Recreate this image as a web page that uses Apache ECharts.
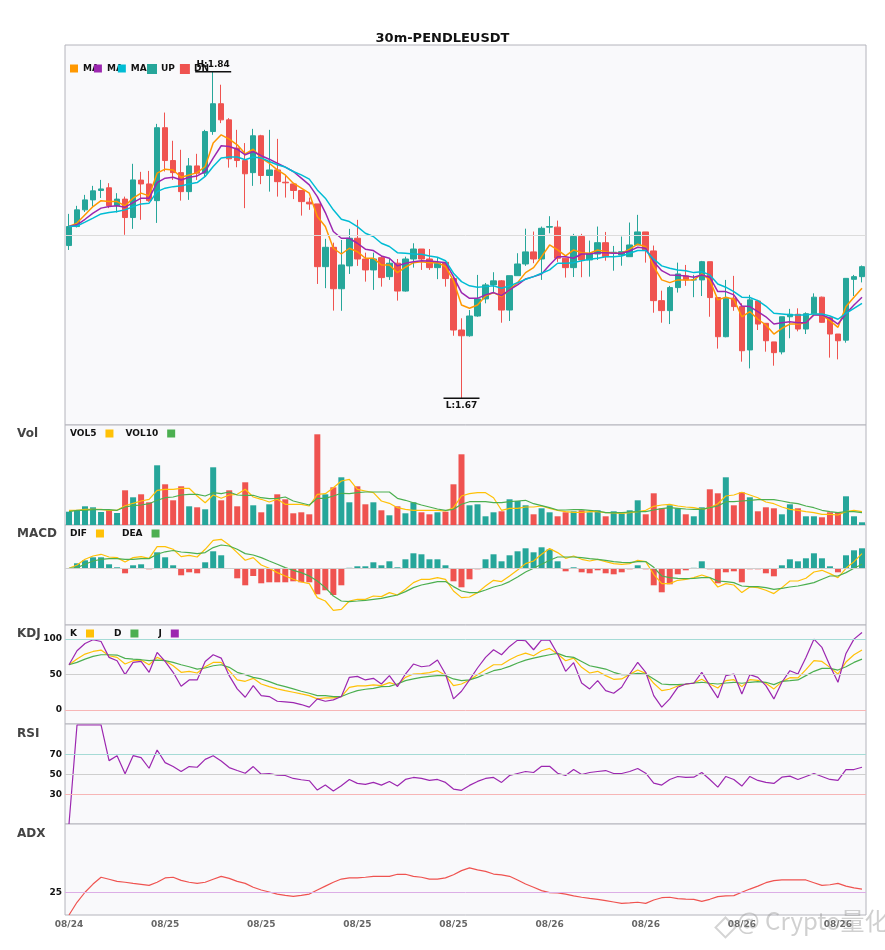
<!DOCTYPE html>
<html lang="en">
<head>
<meta charset="utf-8">
<style>
    html, body { margin: 0; width: 100%; height: 100%; background: #fff; overflow: hidden; }
    #chart { width: 885px; height: 950px; }
</style>
</head>
<body>
<div id="chart"></div>
<script src="https://cdn.jsdelivr.net/npm/echarts@6/dist/echarts.min.js"></script>
<script>
var categories = [
    '08/24 18:00','08/24 18:30','08/24 19:00','08/24 19:30','08/24 20:00','08/24 20:30','08/24 21:00','08/24 21:30','08/24 22:00','08/24 22:30','08/24 23:00','08/24 23:30',
    '08/25 00:00','08/25 00:30','08/25 01:00','08/25 01:30','08/25 02:00','08/25 02:30','08/25 03:00','08/25 03:30','08/25 04:00','08/25 04:30','08/25 05:00','08/25 05:30',
    '08/25 06:00','08/25 06:30','08/25 07:00','08/25 07:30','08/25 08:00','08/25 08:30','08/25 09:00','08/25 09:30','08/25 10:00','08/25 10:30','08/25 11:00','08/25 11:30',
    '08/25 12:00','08/25 12:30','08/25 13:00','08/25 13:30','08/25 14:00','08/25 14:30','08/25 15:00','08/25 15:30','08/25 16:00','08/25 16:30','08/25 17:00','08/25 17:30',
    '08/25 18:00','08/25 18:30','08/25 19:00','08/25 19:30','08/25 20:00','08/25 20:30','08/25 21:00','08/25 21:30','08/25 22:00','08/25 22:30','08/25 23:00','08/25 23:30',
    '08/26 00:00','08/26 00:30','08/26 01:00','08/26 01:30','08/26 02:00','08/26 02:30','08/26 03:00','08/26 03:30','08/26 04:00','08/26 04:30','08/26 05:00','08/26 05:30',
    '08/26 06:00','08/26 06:30','08/26 07:00','08/26 07:30','08/26 08:00','08/26 08:30','08/26 09:00','08/26 09:30','08/26 10:00','08/26 10:30','08/26 11:00','08/26 11:30',
    '08/26 12:00','08/26 12:30','08/26 13:00','08/26 13:30','08/26 14:00','08/26 14:30','08/26 15:00','08/26 15:30','08/26 16:00','08/26 16:30','08/26 17:00','08/26 17:30',
    '08/26 18:00','08/26 18:30','08/26 19:00','08/26 19:30'
];

var open = [
    1.7495,1.7594,1.7681,1.7733,1.7782,1.7796,1.7703,1.7737,1.7641,1.7836,
    1.7816,1.7729,1.8109,1.7938,1.7875,1.7776,1.7910,1.7872,1.8089,1.8234,
    1.8150,1.8003,1.7938,1.7875,1.8067,1.7860,1.7889,1.7825,1.7816,1.7782,
    1.7721,1.7712,1.7385,1.7486,1.7270,1.7389,1.7533,1.7425,1.7368,1.7432,
    1.7333,1.7403,1.7258,1.7425,1.7477,1.7425,1.7380,1.7408,1.7323,1.7055,
    1.7025,1.7128,1.7217,1.7290,1.7311,1.7159,1.7338,1.7399,1.7462,1.7425,
    1.7591,1.7591,1.7429,1.7380,1.7542,1.7420,1.7451,1.7510,1.7458,1.7446,
    1.7437,1.7498,1.7566,1.7467,1.7208,1.7156,1.7276,1.7337,1.7316,1.7316,
    1.7411,1.7224,1.7020,1.7221,1.7177,1.6951,1.7206,1.7090,1.6993,1.6941,
    1.7124,1.7137,1.7060,1.7140,1.7226,1.7119,1.7034,1.7002,1.7319,1.7333
];
var close = [
    1.7594,1.7681,1.7733,1.7780,1.7790,1.7703,1.7737,1.7641,1.7837,1.7816,
    1.7729,1.8109,1.7938,1.7875,1.7776,1.7910,1.7872,1.8089,1.8234,1.8150,
    1.7947,1.7938,1.7869,1.8067,1.7860,1.7889,1.7828,1.7822,1.7782,1.7724,
    1.7712,1.7385,1.7486,1.7270,1.7394,1.7533,1.7425,1.7368,1.7425,1.7328,
    1.7403,1.7258,1.7425,1.7477,1.7425,1.7380,1.7403,1.7323,1.7055,1.7025,
    1.7128,1.7217,1.7290,1.7311,1.7159,1.7338,1.7399,1.7462,1.7425,1.7585,
    1.7594,1.7429,1.7380,1.7542,1.7420,1.7451,1.7510,1.7437,1.7460,1.7463,
    1.7498,1.7566,1.7469,1.7208,1.7156,1.7276,1.7347,1.7316,1.7317,1.7411,
    1.7224,1.7020,1.7221,1.7177,1.6947,1.7212,1.7086,1.6999,1.6937,1.7124,
    1.7137,1.7060,1.7140,1.7226,1.7095,1.7034,1.6999,1.7324,1.7333,1.7385
];
var high = [
    1.7660,1.7702,1.7759,1.7806,1.7837,1.7820,1.7768,1.7750,1.7921,1.7879,
    1.7884,1.8129,1.8188,1.8041,1.7994,1.7951,1.7973,1.8098,1.8400,1.8333,
    1.8159,1.8098,1.8029,1.8103,1.8072,1.8098,1.8051,1.7863,1.7816,1.7782,
    1.7745,1.7712,1.7530,1.7510,1.7524,1.7582,1.7629,1.7458,1.7458,1.7441,
    1.7425,1.7425,1.7437,1.7507,1.7477,1.7477,1.7432,1.7410,1.7337,1.7116,
    1.7159,1.7342,1.7300,1.7356,1.7315,1.7338,1.7455,1.7583,1.7568,1.7594,
    1.7648,1.7625,1.7431,1.7556,1.7556,1.7521,1.7594,1.7566,1.7493,1.7542,
    1.7615,1.7655,1.7566,1.7495,1.7260,1.7285,1.7406,1.7394,1.7342,1.7415,
    1.7411,1.7224,1.7316,1.7337,1.7194,1.7238,1.7212,1.7090,1.6993,1.7124,
    1.7165,1.7168,1.7147,1.7246,1.7229,1.7119,1.7034,1.7324,1.7342,1.7391
];
var low = [
    1.7472,1.7589,1.7670,1.7698,1.7743,1.7690,1.7667,1.7551,1.7582,1.7629,
    1.7723,1.7613,1.7881,1.7837,1.7729,1.7733,1.7837,1.7855,1.8072,1.8133,
    1.7901,1.7903,1.7690,1.7806,1.7815,1.7776,1.7750,1.7745,1.7737,1.7651,
    1.7681,1.7295,1.7273,1.7156,1.7155,1.7347,1.7389,1.7307,1.7264,1.7281,
    1.7316,1.7208,1.7255,1.7380,1.7368,1.7368,1.7320,1.7281,1.7025,1.6700,
    1.7020,1.7124,1.7194,1.7246,1.7093,1.7102,1.7338,1.7389,1.7403,1.7316,
    1.7559,1.7410,1.7328,1.7331,1.7330,1.7333,1.7420,1.7416,1.7364,1.7390,
    1.7436,1.7498,1.7406,1.7145,1.7093,1.7086,1.7250,1.7285,1.7226,1.7232,
    1.7124,1.6958,1.7017,1.7155,1.6890,1.6855,1.7055,1.6942,1.6869,1.6928,
    1.7012,1.7048,1.7034,1.7140,1.7093,1.6911,1.6902,1.6989,1.7232,1.7303
];

var ma5 = [
    1.7594,1.7612,1.7655,1.7698,1.7729,1.7724,1.7724,1.7702,1.7742,1.7768,
    1.7754,1.7872,1.7893,1.7889,1.7851,1.7863,1.7875,1.7907,1.8029,1.8072,
    1.8050,1.8020,1.7973,1.7997,1.7951,1.7924,1.7889,1.7863,1.7820,1.7794,
    1.7768,1.7646,1.7594,1.7481,1.7451,1.7481,1.7463,1.7429,1.7429,1.7394,
    1.7394,1.7354,1.7382,1.7406,1.7411,1.7406,1.7406,1.7385,1.7312,1.7185,
    1.7168,1.7185,1.7232,1.7250,1.7229,1.7264,1.7302,1.7354,1.7380,1.7437,
    1.7498,1.7472,1.7441,1.7472,1.7458,1.7455,1.7472,1.7463,1.7455,1.7455,
    1.7476,1.7502,1.7489,1.7385,1.7316,1.7302,1.7316,1.7316,1.7316,1.7347,
    1.7316,1.7212,1.7226,1.7215,1.7124,1.7151,1.7111,1.7081,1.7034,1.7064,
    1.7086,1.7086,1.7093,1.7137,1.7133,1.7104,1.7069,1.7177,1.7226,1.7273
];
var ma10 = [
    1.7594,1.7603,1.7632,1.7664,1.7690,1.7698,1.7702,1.7695,1.7719,1.7742,
    1.7742,1.7823,1.7846,1.7851,1.7837,1.7851,1.7858,1.7881,1.7951,1.8015,
    1.8011,1.7997,1.7968,1.7985,1.7963,1.7945,1.7924,1.7904,1.7881,1.7846,
    1.7811,1.7750,1.7667,1.7568,1.7533,1.7533,1.7507,1.7476,1.7469,1.7441,
    1.7429,1.7389,1.7403,1.7411,1.7416,1.7415,1.7411,1.7406,1.7333,1.7250,
    1.7220,1.7220,1.7238,1.7250,1.7234,1.7264,1.7290,1.7321,1.7333,1.7347,
    1.7394,1.7437,1.7437,1.7429,1.7451,1.7451,1.7458,1.7458,1.7455,1.7455,
    1.7467,1.7486,1.7481,1.7411,1.7364,1.7342,1.7340,1.7337,1.7330,1.7342,
    1.7330,1.7255,1.7255,1.7238,1.7180,1.7177,1.7151,1.7124,1.7086,1.7093,
    1.7098,1.7093,1.7093,1.7133,1.7133,1.7116,1.7086,1.7140,1.7185,1.7226
];
var ma20 = [
    1.7594,1.7597,1.7617,1.7638,1.7660,1.7667,1.7672,1.7681,1.7698,1.7712,
    1.7716,1.7776,1.7794,1.7802,1.7806,1.7816,1.7823,1.7855,1.7907,1.7951,
    1.7956,1.7956,1.7942,1.7956,1.7951,1.7933,1.7916,1.7904,1.7881,1.7863,
    1.7841,1.7785,1.7742,1.7681,1.7632,1.7620,1.7594,1.7559,1.7542,1.7507,
    1.7490,1.7458,1.7455,1.7451,1.7450,1.7441,1.7434,1.7416,1.7351,1.7307,
    1.7285,1.7278,1.7281,1.7285,1.7273,1.7285,1.7302,1.7319,1.7333,1.7351,
    1.7368,1.7403,1.7403,1.7406,1.7416,1.7424,1.7429,1.7437,1.7437,1.7441,
    1.7455,1.7469,1.7469,1.7424,1.7389,1.7377,1.7368,1.7364,1.7354,1.7359,
    1.7342,1.7295,1.7278,1.7255,1.7226,1.7224,1.7208,1.7180,1.7142,1.7139,
    1.7135,1.7133,1.7133,1.7139,1.7139,1.7128,1.7111,1.7142,1.7168,1.7194
];

// volume in thousands
var volume = [
    13.3,14.7,18.7,17.7,13,14.7,12,34.7,27.7,30.7,
    22.7,59.7,40.7,24.7,38.7,18.7,17.7,15.7,57.7,24.7,
    34.7,18.7,42.7,19.7,12.7,20.7,30.7,25.7,11.7,12.7,
    10.7,90.7,30.7,37.7,47.7,22.7,38.7,20.7,22.7,14.7,
    9.7,18.7,11.7,22.7,12.7,10.7,12.7,13.3,40.7,70.7,
    19.7,20.7,8.7,12.7,13.7,25.7,24,19.7,10.7,16.7,
    12.7,8.7,12.7,13.7,14.7,12.7,14.7,8.7,13.7,11.7,
    14.7,24.7,10.7,31.7,16.7,19.7,16.7,10.7,8.7,17.7,
    35.7,31.7,47.7,19.7,32.7,27.7,13.7,17.7,16.7,10.7,
    20.7,16.7,8.7,8.7,7.7,12.7,12.7,28.7,8.7,2.7
];
var vol5 = [
    14.7,14.7,15.7,15.7,15.7,14.7,14.7,19.3,21.7,24,
    25.7,34.7,35.7,35.7,36.7,36.7,29,22.3,30,26.7,
    30,30.7,35.7,28,25.7,23,25.7,20.7,20.7,20.7,
    19,30.7,31.3,37.3,44,45.7,35.7,34,32.3,24,
    21.7,17.3,15.7,14.7,14.7,14.7,14.7,14,17.3,29,
    31.3,32.3,32.3,27.3,14.7,16.7,16.7,18,18,19,
    16.7,14.7,13.3,12.7,12.7,13.3,13.3,12.3,12,11.7,
    12.3,13.3,14.7,18.7,20,20.7,19,18,17.3,15.7,
    17.3,21.3,29,30,32.7,30,27.3,23,21.3,18,
    15.7,14.7,13.3,12.3,10.7,10.7,10,13.3,14.7,13.3
];
var vol10 = [
    13.3,14.7,14.7,15.3,15.3,15.3,14.7,18,19.3,20,
    21.3,24.7,27.3,28,30,30.7,30.7,29,32.3,31.3,
    33,30,29.7,29.7,27.3,26.3,26.7,28,24,22,
    20,26.7,26.7,29,31.7,31.3,32.3,33,33,33,
    33,26.7,24.7,22.3,20,18,16,14.7,15.7,20.7,
    23.3,23.3,23.3,22.3,22.3,23.3,24,24.7,21.3,19.3,
    17.3,15,15,15.3,15.3,14.7,14,12.3,12.3,12.3,
    13,13.3,13.3,15,16.3,17.3,16.7,16,15.7,15.7,
    17.3,19,23.3,23.3,24,24.7,25.3,25.3,25.3,24,
    22.3,21.3,19,17.3,14.7,13.3,12.3,13.3,13.3,12.3
];

// MACD values in units of 1e-4
var dif = [
    0,3.3,9,12.3,14,11.3,10.7,6.3,10.7,11.7,
    10,21.7,21.7,19,11.7,13,11.3,19,28,29,
    23.3,15.7,8,10.7,3.3,0,-4.3,-7.7,-11,-13.7,
    -15.3,-29.3,-32.7,-42,-41,-32.7,-31,-31,-27.7,-28.3,
    -24.3,-26.7,-21,-14.3,-11,-11,-9.3,-11,-22.7,-29.3,
    -28.7,-24.3,-17.7,-12,-13.3,-7.7,-1.7,4.7,7.3,14,
    19.7,15.7,10,12.3,9,7.3,9,6.7,4.7,4,
    4.7,8,6.7,-6,-15.3,-15.3,-12,-11,-9.3,-6.7,
    -9.3,-18.7,-15.3,-16.7,-24.3,-18.7,-19.3,-22,-25.3,-19.3,
    -12.7,-12.7,-10,-3.7,-2,-5.3,-9.3,0,6.7,14.7
];
var dea = [
    0,0.7,4,7.3,9,9.7,9.7,9,9,9.7,
    9.7,14,16.5,17.8,16.3,15.7,14.7,15.7,20.7,23.3,
    22.3,19,14.7,13.3,10.7,7.3,4,0.7,-2,-4.3,
    -7.7,-12.7,-19.3,-27.7,-32.7,-33.3,-32.7,-32,-31,-30,
    -28.3,-26.7,-23.3,-19.3,-16.7,-15,-13.3,-13.3,-18.3,-22.7,
    -24.3,-24.3,-21.7,-18.7,-16.7,-13.3,-8.7,-3.7,0,4,
    8,11.3,11.3,11.3,10.7,9.7,9,8,6.7,6,
    5.7,6.7,6.7,1,-7.7,-9.3,-10,-10.3,-10,-9.3,
    -9.3,-12.7,-13.3,-14.3,-17.7,-18.3,-18.3,-19.3,-21,-20,
    -18.7,-17.7,-16,-14.3,-11,-7.7,-7.7,-4.3,0,4
];
var macdHist = [
    0,5,8,11,11,4,1,-5,3,4,
    -1,16,11,3,-7,-4,-5,6,17,13,
    -0.5,-10,-17,-7.7,-15,-14,-14,-14,-13,-14,
    -14,-26,-22,-26.7,-17,0.5,2,2,6,3,
    7,1,9,15,14,9,9,3,-13,-19,
    -11,-1,9,14,7,13,17,20,16,21,
    19,7,-3,1,-4,-5,-2,-5,-6,-4,
    -1,3,-1,-17,-24,-16,-6,-2,0.5,7,
    -1,-15,-4,-3,-14,-1,-1,-5,-8,3,
    9,7,10,15,10,2,-4,13,18,20
];

var kLine = [
    63.8,71.8,78.9,82.6,84.5,76.5,74.2,64.8,69.5,70.4,
    63.8,74.2,69.5,62.4,53.1,54.5,52.1,61,67.1,67.1,
    55.4,42.3,40.4,44.6,36.6,32.9,29.6,27.2,24.9,22.5,
    20.2,15.5,16.9,16.9,18.8,31.9,33.8,33.8,35.2,34.3,
    38.5,35.2,46,50.7,51.2,52.6,55.4,48.8,34.3,36.6,
    42.3,49.8,56.8,63.8,63.8,70.9,76.5,80.3,76.5,83.6,
    86.9,78.9,69.5,73.2,60.1,52.1,54.5,48.4,43.2,43.7,
    50.2,56.3,51.6,37.6,27.2,29.1,33.8,36.2,38,43.2,
    36.6,31,41.3,42.7,32.9,42.7,41.8,37.6,29.6,39.9,
    45.5,45.1,56.8,69.5,68.5,60.1,50.7,67.6,77.9,84.5
];
var dLine = [
    63.8,67.1,71.8,75.6,77.9,77.9,77.5,72.8,71.8,70.9,
    69.5,70.4,69.5,67.1,63.8,61,57.7,59.2,62.4,63.8,
    60.1,53.1,49.8,46,43.7,39.9,35.7,32.9,29.6,26.3,
    23.5,20.2,20.2,18.8,18.8,23.5,27.2,29.1,30.5,32.9,
    33.3,36.6,41.3,43.7,46,47.4,48.4,48.4,43.7,41.3,
    42.3,46,50.7,55.4,57.7,61.5,66.2,70.4,73.2,75.6,
    77.9,79.8,75.6,74.2,68.5,62.4,60.1,57.7,53.1,49.8,
    49.8,51.6,50.7,43.7,36.6,35.7,35.7,36.6,38,39,
    37.6,36.6,38,39,37.6,39,39.9,39,35.7,40.4,
    41.3,42.3,48.4,54.5,58.7,58.7,56.3,61,67.1,71.8
];
var jLine = [
    63.8,83.6,93.9,99.1,96.7,74.2,69.5,49.8,67.1,68.5,
    53.1,81.2,68.5,53.1,33.3,42.3,42.3,68.5,77.9,73.2,
    48.4,29.6,17.8,34.3,20.2,18.8,12.2,11.3,10.3,7.5,
    3.8,15.5,12.2,14.1,18.8,46,47.4,42.3,44.6,36.6,
    48.4,32.9,50.7,64.8,61,62.4,70.4,50.7,15.5,26.3,
    42.3,59.2,74.2,85,77.9,89.7,98.6,97.7,85,99.1,
    98.6,78.9,54.5,66.7,38,29.6,41.3,27.2,23.5,31.9,
    50.7,67.1,53.1,20.2,3.8,15.5,31.9,36.6,37.6,53.1,
    34.3,16.9,48.4,50.7,22.5,49.8,46,34.3,15.5,39,
    55.4,50.7,74.2,100,88.3,62.4,39,79.8,100,109.4
];

var rsi = [
    0,100,100,100,100,64,69,50.7,69,67,
    56.3,74.7,62,58,53,58,57.3,65.3,69,63.7,
    57,54,51.3,58,50.3,51,49.3,49,46,44.7,
    43.7,34.3,39.3,33.3,38.7,45,41,40,42,39.3,
    43,38.3,45,47,46,44,45,42,35.3,34,
    39,43,46,47,42,49,51,53,52,58.3,
    58.3,51.3,49,55,50,52,53,54,51,51,
    53,56,51.3,41.3,39.3,45,48,47,47.3,52,
    45,37.3,48,45,38.3,48,44,42,41,47.3,
    48.3,45,48,51,48,45,44,55,55,57.3
];
var adx = [
    15,20.6,25,28.6,31.6,30.7,29.8,29.4,28.9,28.5,
    28,29.4,31.3,31.6,30.2,29.4,28.9,29.4,30.7,32,
    31.1,29.8,28.9,27.2,26,25.1,24.2,23.6,23.2,23.6,
    24.2,26,27.7,29.4,30.8,31.3,31.3,31.6,32,32,
    32,32.9,32.9,32,31.6,30.8,30.8,31.3,32.7,34.5,
    35.7,34.8,34.2,33,32.6,32,30.4,28.6,27.2,25.7,
    24.8,24.7,24.2,23.4,22.8,22.3,21.9,21.3,20.7,20.1,
    20.3,20.6,20.1,21.6,22.6,22.8,22.2,22,21.9,21,
    21.9,23.1,23.4,23.5,25,26.4,27.7,29.2,30.1,30.4,
    30.4,30.4,30.4,29.2,28,28.3,28.9,27.7,26.9,26.4
];

var UP = '#26a69a', DN = '#ef5350';
var FONT = 'DejaVu Sans';

[open, close, high, low, ma5, ma10, ma20, volume, vol5, vol10, dif, dea, macdHist,
 kLine, dLine, jLine, rsi, adx].forEach(function (arr, n) {
    if (arr.length !== categories.length) {
        throw new Error('array ' + n + ' has ' + arr.length + ' values');
    }
});

var empty = ['-', '-', '-', '-'];
var upData = [], dnData = [], volData = [], histData = [];
for (var i = 0; i < categories.length; i++) {
    var isUp = close[i] >= open[i];
    var ohlc = [open[i], close[i], low[i], high[i]];
    upData.push(isUp ? ohlc : empty);
    dnData.push(isUp ? empty : ohlc);
    volData.push({value: volume[i], itemStyle: {color: isUp ? UP : DN}});
    histData.push({value: macdHist[i], itemStyle: {color: macdHist[i] >= 0 ? UP : DN}});
}

var grids = [
    {top: 45, height: 380},
    {top: 425, height: 100},
    {top: 525, height: 100},
    {top: 625, height: 99},
    {top: 724, height: 100},
    {top: 824, height: 91}
].map(function (g) {
    return {
        left: 65, right: 19, top: g.top, height: g.height,
        show: true, backgroundColor: '#f9f9fb', borderColor: '#b4b4bc', borderWidth: 1
    };
});

var xAxes = grids.map(function (g, idx) {
    var last = idx === grids.length - 1;
    return {
        type: 'category', gridIndex: idx, data: categories, boundaryGap: true,
        axisLine: {show: false}, axisTick: {show: false}, splitLine: {show: false},
        axisLabel: last ? {
            show: true, interval: 11, margin: 5, color: '#666', fontSize: 9,
            fontWeight: 'bold', fontFamily: FONT,
            formatter: function (v) { return v.slice(0, 5); }
        } : {show: false}
    };
});

function plainY(idx, min, max) {
    return {
        type: 'value', gridIndex: idx, min: min, max: max,
        axisLine: {show: false}, axisTick: {show: false},
        axisLabel: {show: false}, splitLine: {show: false}
    };
}
function labelY(idx, min, max, interval, shown) {
    var y = plainY(idx, min, max);
    y.interval = interval;
    y.axisLabel = {
        show: true, margin: 3, color: '#111', fontSize: 9, fontWeight: 'bold', fontFamily: FONT,
        formatter: function (v) { return shown.indexOf(v) >= 0 ? String(v) : ''; }
    };
    return y;
}

var yAxes = [
    plainY(0, 1.656, 1.854),
    plainY(1, 0, 100),
    plainY(2, -56.7, 43.3),
    labelY(3, -20, 120, 10, [0, 50, 100]),
    labelY(4, 0, 101, 10, [30, 50, 70]),
    labelY(5, 15, 55, 5, [25])
];

function refLines(list) {
    return {
        silent: true, symbol: 'none', label: {show: false}, precision: 4,
        lineStyle: {type: 'solid', width: 1},
        data: list.map(function (d) {
            return {yAxis: d[0], lineStyle: {color: d[1], type: 'solid', width: 1}};
        })
    };
}
function line(name, data, color, xi, width, extra) {
    var s = {
        name: name, type: 'line', data: data, xAxisIndex: xi, yAxisIndex: xi,
        symbol: 'none', smooth: false,
        lineStyle: {color: color, width: width}, itemStyle: {color: color}
    };
    for (var k in extra) s[k] = extra[k];
    return s;
}
function hiLoMark(kind) {
    var isHigh = kind === 'H';
    return {
        symbol: 'rect', symbolSize: [36, 1.5],
        itemStyle: {color: '#111'},
        label: {
            show: true, position: isHigh ? 'top' : 'bottom', distance: 2,
            color: '#111', fontSize: 9, fontWeight: 'bold', fontFamily: FONT,
            formatter: function (p) { return kind + ':' + Number(p.value).toFixed(2); }
        },
        data: [{type: isHigh ? 'max' : 'min', valueDim: isHigh ? 'highest' : 'lowest', name: kind}]
    };
}

var legendText = {color: '#111', fontSize: 9, fontWeight: 'bold', fontFamily: FONT};
function subLegend(names, top, gap) {
    return {
        data: names, left: 70, top: top, padding: 0, align: 'right', icon: 'rect',
        itemWidth: 8, itemHeight: 8, itemGap: gap,
        textStyle: {color: '#111', fontSize: 9, fontWeight: 'bold', fontFamily: FONT, padding: [0, 4, 0, 0]}
    };
}

function panelLabel(text, top) {
    return {
        type: 'text', left: 17, top: top, silent: true,
        style: {text: text, font: 'bold 12px "DejaVu Sans"', fill: '#444'}
    };
}

var chart = echarts.init(document.getElementById('chart'));
chart.setOption({
    animation: false,
    backgroundColor: '#fff',
    title: {
        text: '30m-PENDLEUSDT', left: 'center', top: 27,
        textStyle: {fontSize: 13, fontWeight: 'bold', color: '#111', fontFamily: FONT}
    },
    legend: [
        {
            data: ['MA5', 'MA10', 'MA20'], left: 70, top: 64, padding: 0, icon: 'rect',
            itemWidth: 8, itemHeight: 8, itemGap: -5,
            textStyle: {color: '#111', fontSize: 9, fontWeight: 'bold', fontFamily: FONT,
                width: 18, overflow: 'truncate', ellipsis: ''}
        },
        {
            data: ['UP', 'DN'], left: 147, top: 64, padding: 0, icon: 'rect',
            itemWidth: 8, itemHeight: 8, itemGap: 5, textStyle: legendText
        },
        subLegend(['VOL5', 'VOL10'], 429, 12),
        subLegend(['DIF', 'DEA'], 529, 18),
        subLegend(['K', 'D', 'J'], 629, 20)
    ],
    grid: grids,
    xAxis: xAxes,
    yAxis: yAxes,
    graphic: [
        panelLabel('Vol', 428),
        panelLabel('MACD', 528),
        panelLabel('KDJ', 628),
        panelLabel('RSI', 728),
        panelLabel('ADX', 828),
        {
            type: 'rect', left: 712, top: 914, silent: true, z: 100, rotation: Math.PI / 4,
            shape: {width: 14, height: 14},
            style: {fill: 'none', stroke: 'rgba(160,160,160,0.45)', lineWidth: 2}
        },
        {
            type: 'text', left: 737, top: 909, silent: true, z: 100,
            style: {text: '@ Crypto量化', font: '24px "Noto Sans CJK SC"', fill: 'rgba(150,150,150,0.45)'}
        }
    ],
    series: [
        {
            name: 'UP', type: 'candlestick', data: upData, xAxisIndex: 0, yAxisIndex: 0, barWidth: 6,
            itemStyle: {color: UP, color0: UP, borderColor: UP, borderColor0: UP, borderWidth: 1},
            markPoint: hiLoMark('H')
        },
        {
            name: 'DN', type: 'candlestick', data: dnData, xAxisIndex: 0, yAxisIndex: 0, barWidth: 6,
            itemStyle: {color: DN, color0: DN, borderColor: DN, borderColor0: DN, borderWidth: 1},
            markPoint: hiLoMark('L')
        },
        line('MA5', ma5, '#ff9800', 0, 1.5),
        line('MA10', ma10, '#9c27b0', 0, 1.5),
        line('MA20', ma20, '#00bcd4', 0, 1.5, {markLine: refLines([[1.755, '#dcdcdc']])}),
        {name: 'Vol', type: 'bar', data: volData, xAxisIndex: 1, yAxisIndex: 1, barWidth: 6},
        line('VOL5', vol5, '#ffc107', 1, 1.2),
        line('VOL10', vol10, '#4caf50', 1, 1.2),
        {name: 'MACD', type: 'bar', data: histData, xAxisIndex: 2, yAxisIndex: 2, barWidth: 6,
            markLine: refLines([[0, '#cfcfcf']])},
        line('DIF', dif, '#ffc107', 2, 1.2),
        line('DEA', dea, '#4caf50', 2, 1.2),
        line('K', kLine, '#ffc107', 3, 1.2, {markLine: refLines([[100, '#a6dbd6'], [50, '#cfcfcf'], [0, '#f7b6b6']])}),
        line('D', dLine, '#4caf50', 3, 1.2),
        line('J', jLine, '#9c27b0', 3, 1.2),
        line('RSI', rsi, '#9c27b0', 4, 1.2, {markLine: refLines([[70, '#a6dbd6'], [50, '#cfcfcf'], [30, '#f7b6b6']])}),
        line('ADX', adx, '#ef5350', 5, 1.2, {markLine: refLines([[25, '#dcaee6']])})
    ]
});
</script>
</body>
</html>
